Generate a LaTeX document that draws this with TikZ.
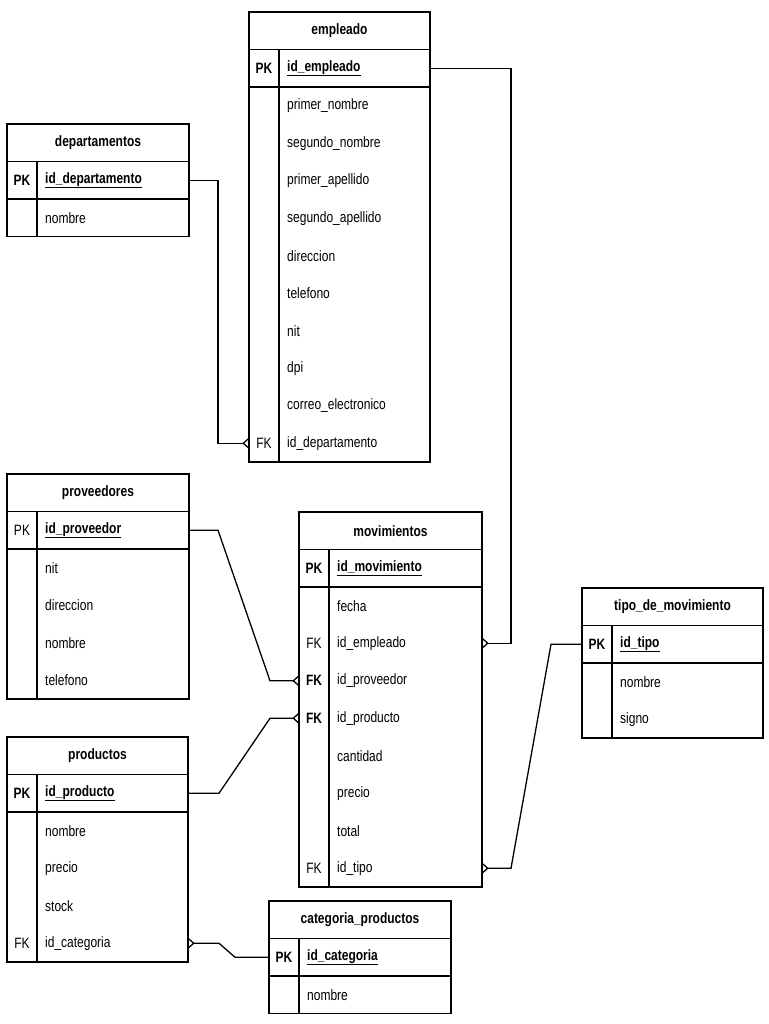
\documentclass[tikz,border=0pt]{standalone}
\usepackage{fontspec}
\setmainfont{Liberation Sans}[FakeStretch=0.8]
\usepackage{tikz}
\usetikzlibrary{arrows.meta,positioning,calc}
\newcommand{\erfont}{\fontsize{15}{17}\selectfont}

\begin{document}
\begin{tikzpicture}[
  x=1pt,y=-1pt,
  font=\erfont,
  title/.style={draw,line width=1.6pt,outer sep=0pt,minimum height=37.5pt,
    inner sep=0pt,font=\erfont\bfseries},
  pkrow/.style={draw,line width=1.6pt,outer sep=0pt,minimum height=37.5pt,inner sep=0pt},
  bodybox/.style={draw,line width=1.6pt,outer sep=0pt,inner sep=0pt},
  divider/.style={line width=1.4pt},
  key/.style={inner sep=0pt},
  bkey/.style={inner sep=0pt,font=\erfont\bfseries},
  attr/.style={anchor=west,inner sep=0pt},
  pkattr/.style={anchor=west,inner sep=0pt,font=\erfont\bfseries},
  rel/.style={line width=1.3pt,-{Straight Barb[reversed,length=5pt,width=9pt]}}
]
  \useasboundingbox (0,0) rectangle (768,1024);

  % empleado
  \node[title,minimum width=181pt] (emp) at (339.5,30.75) {empleado};
  \node[pkrow,minimum width=181pt,below=0pt of emp] (emp-pk) {};
  \node[bodybox,minimum width=181pt,minimum height=375pt,below=0pt of emp-pk] (emp-body) {};
  \draw[divider] ($(emp-pk.north west)+(30,0)$) -- ($(emp-body.south west)+(30,0)$);
  \node[bkey] (emp-k) at (264,68.25) {PK};
  \node[pkattr] (emp-id) at (287,68.25) {\underline{id\_empleado}};
  \node[attr] (emp1) at (287,105.75) {primer\_nombre};
  \node[attr] (emp2) at (287,143.25) {segundo\_nombre};
  \node[attr] (emp3) at (287,180.75) {primer\_apellido};
  \node[attr] (emp4) at (287,218.25) {segundo\_apellido};
  \node[attr] (emp5) at (287,255.75) {direccion};
  \node[attr] (emp6) at (287,293.25) {telefono};
  \node[attr] (emp7) at (287,330.75) {nit};
  \node[attr] (emp8) at (287,368.25) {dpi};
  \node[attr] (emp9) at (287,405.75) {correo\_electronico};
  \node[key] (emp-fk) at (264,443.25) {FK};
  \node[attr] (emp10) at (287,443.25) {id\_departamento};

  % departamentos
  \node[title,minimum width=182pt] (dep) at (98,142.75) {departamentos};
  \node[pkrow,minimum width=182pt,below=0pt of dep] (dep-pk) {};
  \node[bodybox,minimum width=182pt,minimum height=37.5pt,below=0pt of dep-pk] (dep-body) {};
  \draw[divider] ($(dep-pk.north west)+(30,0)$) -- ($(dep-body.south west)+(30,0)$);
  \node[bkey] (dep-k) at (22,180.25) {PK};
  \node[pkattr] (dep-id) at (45,180.25) {\underline{id\_departamento}};
  \node[attr] (dep1) at (45,217.75) {nombre};

  % proveedores
  \node[title,minimum width=182pt] (prov) at (98,492.75) {proveedores};
  \node[pkrow,minimum width=182pt,below=0pt of prov] (prov-pk) {};
  \node[bodybox,minimum width=182pt,minimum height=150pt,below=0pt of prov-pk] (prov-body) {};
  \draw[divider] ($(prov-pk.north west)+(30,0)$) -- ($(prov-body.south west)+(30,0)$);
  \node[key] (prov-k) at (22,530.25) {PK};
  \node[pkattr] (prov-id) at (45,530.25) {\underline{id\_proveedor}};
  \node[attr] (prov1) at (45,567.75) {nit};
  \node[attr] (prov2) at (45,605.25) {direccion};
  \node[attr] (prov3) at (45,642.75) {nombre};
  \node[attr] (prov4) at (45,680.25) {telefono};

  % movimientos
  \node[title,minimum width=183pt] (mov) at (390.5,530.75) {movimientos};
  \node[pkrow,minimum width=183pt,below=0pt of mov] (mov-pk) {};
  \node[bodybox,minimum width=183pt,minimum height=300pt,below=0pt of mov-pk] (mov-body) {};
  \draw[divider] ($(mov-pk.north west)+(30,0)$) -- ($(mov-body.south west)+(30,0)$);
  \node[bkey] (mov-k) at (314,568.25) {PK};
  \node[pkattr] (mov-id) at (337,568.25) {\underline{id\_movimiento}};
  \node[attr] (mov1) at (337,605.75) {fecha};
  \node[key] (mov-fk2) at (314,643.25) {FK};
  \node[attr] (mov2) at (337,643.25) {id\_empleado};
  \node[bkey] (mov-fk3) at (314,680.75) {FK};
  \node[attr] (mov3) at (337,680.75) {id\_proveedor};
  \node[bkey] (mov-fk4) at (314,718.25) {FK};
  \node[attr] (mov4) at (337,718.25) {id\_producto};
  \node[attr] (mov5) at (337,755.75) {cantidad};
  \node[attr] (mov6) at (337,793.25) {precio};
  \node[attr] (mov7) at (337,830.75) {total};
  \node[key] (mov-fk8) at (314,868.25) {FK};
  \node[attr] (mov8) at (337,868.25) {id\_tipo};

  % productos
  \node[title,minimum width=181pt] (prod) at (97.5,755.75) {productos};
  \node[pkrow,minimum width=181pt,below=0pt of prod] (prod-pk) {};
  \node[bodybox,minimum width=181pt,minimum height=150pt,below=0pt of prod-pk] (prod-body) {};
  \draw[divider] ($(prod-pk.north west)+(30,0)$) -- ($(prod-body.south west)+(30,0)$);
  \node[bkey] (prod-k) at (22,793.25) {PK};
  \node[pkattr] (prod-id) at (45,793.25) {\underline{id\_producto}};
  \node[attr] (prod1) at (45,830.75) {nombre};
  \node[attr] (prod2) at (45,868.25) {precio};
  \node[attr] (prod3) at (45,905.75) {stock};
  \node[key] (prod-fk) at (22,943.25) {FK};
  \node[attr] (prod4) at (45,943.25) {id\_categoria};

  % categoria_productos
  \node[title,minimum width=182pt] (cat) at (360,919.75) {categoria\_productos};
  \node[pkrow,minimum width=182pt,below=0pt of cat] (cat-pk) {};
  \node[bodybox,minimum width=182pt,minimum height=37.5pt,below=0pt of cat-pk] (cat-body) {};
  \draw[divider] ($(cat-pk.north west)+(30,0)$) -- ($(cat-body.south west)+(30,0)$);
  \node[bkey] (cat-k) at (284,957.25) {PK};
  \node[pkattr] (cat-id) at (307,957.25) {\underline{id\_categoria}};
  \node[attr] (cat1) at (307,994.75) {nombre};

  % tipo_de_movimiento
  \node[title,minimum width=181pt] (tipo) at (672.5,606.75) {tipo\_de\_movimiento};
  \node[pkrow,minimum width=181pt,below=0pt of tipo] (tipo-pk) {};
  \node[bodybox,minimum width=181pt,minimum height=75pt,below=0pt of tipo-pk] (tipo-body) {};
  \draw[divider] ($(tipo-pk.north west)+(30,0)$) -- ($(tipo-body.south west)+(30,0)$);
  \node[bkey] (tipo-k) at (597,644.25) {PK};
  \node[pkattr] (tipo-id) at (620,644.25) {\underline{id\_tipo}};
  \node[attr] (tipo1) at (620,681.75) {nombre};
  \node[attr] (tipo2) at (620,719.25) {signo};

  % relations
  \draw[rel] (dep-pk.east) -- ++(29,0) |- (emp10 -| emp-body.west);
  \draw[rel] (emp-pk.east) -- ++(81,0) |- (mov2 -| mov-body.east);
  \draw[rel] (prov-pk.east) -- ++(29,0)
    -- ($(mov3 -| mov-body.west)+(-29,0)$) -- (mov3 -| mov-body.west);
  \draw[rel] (prod-pk.east) -- ++(31,0)
    -- ($(mov4 -| mov-body.west)+(-29,0)$) -- (mov4 -| mov-body.west);
  \draw[rel] (tipo-pk.west) -- ++(-31,0)
    -- ($(mov8 -| mov-body.east)+(29,0)$) -- (mov8 -| mov-body.east);
  \draw[rel] (cat-pk.west) -- ++(-34,0)
    -- ($(prod4 -| prod-body.east)+(31,0)$) -- (prod4 -| prod-body.east);
\end{tikzpicture}
\end{document}
